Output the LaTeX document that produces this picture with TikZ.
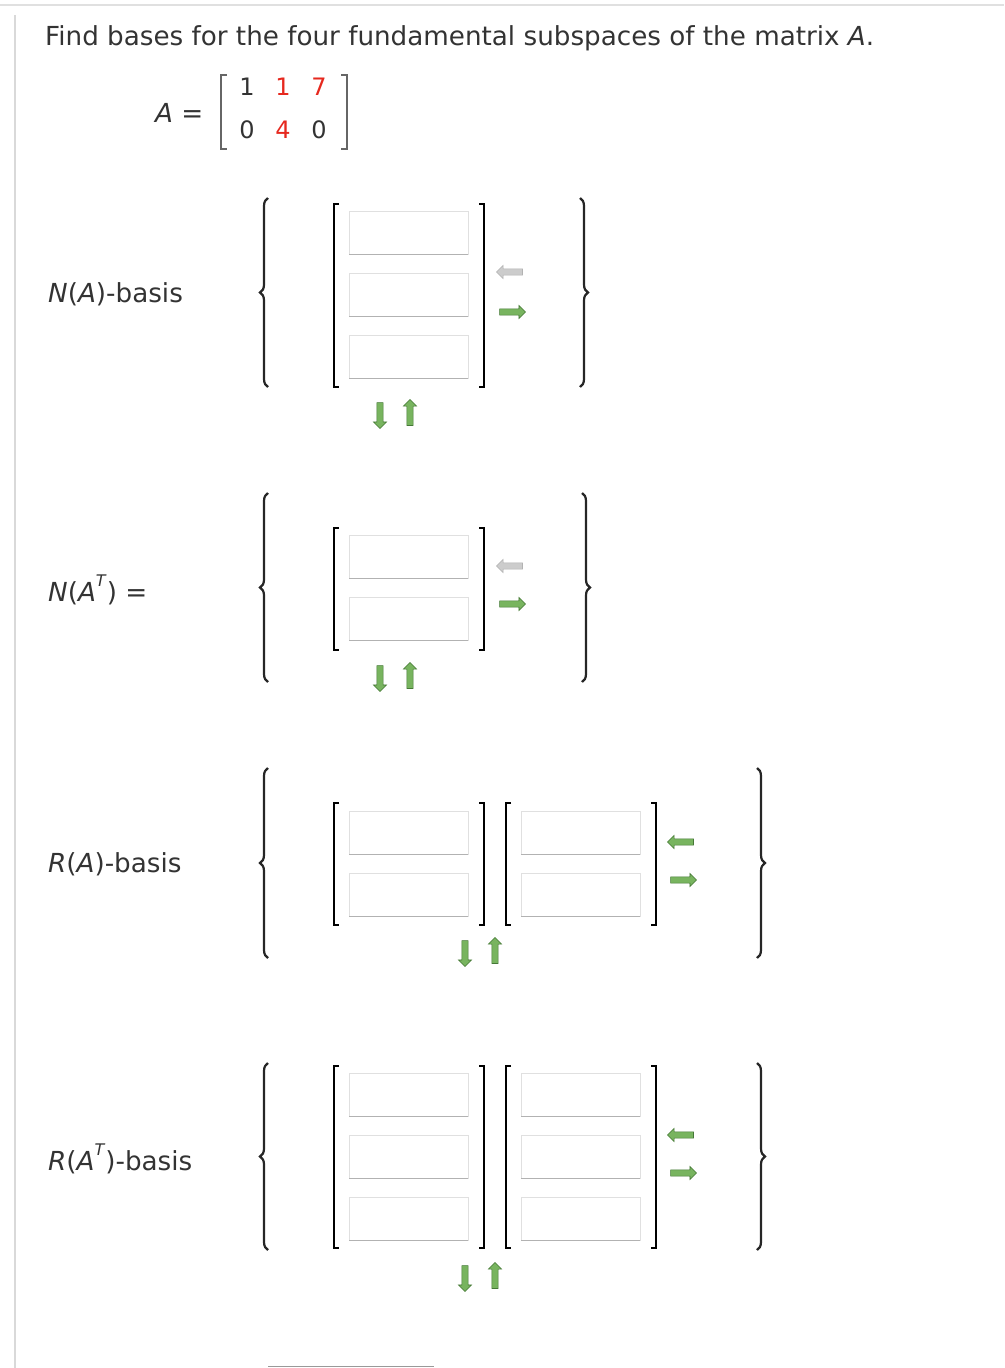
\documentclass[tikz,border=0pt]{standalone}
\usepackage{fontspec}
\setmainfont{DejaVu Sans}
\usetikzlibrary{decorations.pathreplacing,shapes.arrows}
\definecolor{txt}{RGB}{51,51,51}
\definecolor{gfill}{RGB}{120,180,95}
\definecolor{gdraw}{RGB}{70,120,55}
\definecolor{redn}{RGB}{230,40,30}
\tikzset{
  lbl/.style={anchor=west,text=txt,font=\fontsize{26.2}{30}\selectfont,inner sep=0},
  inbox/.style={draw=black!12,fill=white,minimum width=119pt,minimum height=43pt,inner sep=0},
  brc/.style={decorate,decoration={brace,amplitude=8pt},line width=2.2pt,black!85},
  garr/.style={single arrow,fill=gfill,draw=gdraw,line width=0.6pt,minimum height=26pt,minimum width=13pt,single arrow head extend=3.5pt,inner sep=2.8pt,single arrow tip angle=90},
  grarr/.style={garr,fill=black!20,draw=black!30},
  ent/.style={font=\fontsize{24}{28}\selectfont,inner sep=0}
}
\newcommand\sT{\raisebox{0.55em}{\fontsize{16}{18}\selectfont\textit{T}}}
\newcommand\inp[3]{\node[inbox,anchor=north west] (#1) at (#2,#3) {};
  \draw[black!30,line width=0.8pt] (#1.south west) -- (#1.south east);}
\newcommand\brk[4]{% x1 x2 ytop ybot
  \draw[line width=1.3pt] (#1+5,#3) -- (#1,#3) -- (#1,#4) -- (#1+5,#4);
  \draw[line width=1.3pt] (#2-5,#3) -- (#2,#3) -- (#2,#4) -- (#2-5,#4);}
\newcommand\brcs[4]{% xl xr ytop ybot
  \coordinate (bl1) at (#1,#4); \coordinate (bl2) at (#1,#3);
  \coordinate (br1) at (#2,#3); \coordinate (br2) at (#2,#4);
  \draw[brc] (bl1) -- (bl2); \draw[brc] (br1) -- (br2);}
\newcommand\ud[3]{\node[garr,rotate=-90] (d#3) at (#1,#2) {};\node[garr,rotate=90] (u#3) at (#1+30,#2) {};}
\begin{document}
\begin{tikzpicture}[x=1pt,y=-1pt]
\useasboundingbox (0,0) rectangle (1004,1368);
\draw[black!12,line width=2pt] (0,5) -- (1004,5);
\draw[black!15,line width=2pt] (15,15) -- (15,1368);
\node[lbl] (title) at (45,38) {Find bases for the four fundamental subspaces of the matrix \textit{A}.};
% matrix
\node[lbl] (aeq) at (155,113) {\textit{A} =};
\draw[black!60,line width=1.4pt] (227,75) -- (221,75) -- (221,149) -- (227,149);
\draw[black!60,line width=1.4pt] (341,75) -- (347,75) -- (347,149) -- (341,149);
\node[ent,text=txt] (a11) at (247,87) {1};
\node[ent,text=redn] (a12) at (283,87) {1};
\node[ent,text=redn] (a13) at (319,87) {7};
\node[ent,text=txt] (a21) at (247,130) {0};
\node[ent,text=redn] (a22) at (283,130) {4};
\node[ent,text=txt] (a23) at (319,130) {0};
% section 1
\node[lbl] (l1) at (48,294) {\textit{N}(\textit{A})-basis};
\brcs{268}{580}{198}{387}
\brk{334}{484}{204}{387}
\inp{i11}{349}{211}\inp{i12}{349}{273}\inp{i13}{349}{335}
\node[grarr,shape border rotate=180] (al1) at (511,272) {};
\node[garr] (ar1) at (511,312) {};
\ud{380}{414}{1}
% section 2
\node[lbl] (l2) at (48,590) {\textit{N}(\textit{A}\sT) =};
\brcs{268}{582}{493}{682}
\brk{334}{484}{528}{650}
\inp{i21}{349}{535}\inp{i22}{349}{597}
\node[grarr,shape border rotate=180] (al2) at (511,566) {};
\node[garr] (ar2) at (511,604) {};
\ud{380}{677}{2}
% section 3
\node[lbl] (l3) at (48,864) {\textit{R}(\textit{A})-basis};
\brcs{268}{757}{768}{958}
\brk{334}{484}{803}{925}
\brk{506}{656}{803}{925}
\inp{i31}{349}{811}\inp{i32}{349}{873}\inp{i33}{521}{811}\inp{i34}{521}{873}
\node[garr,shape border rotate=180] (al3) at (682,842) {};
\node[garr] (ar3) at (682,880) {};
\ud{465}{952}{3}
% section 4
\node[lbl] (l4) at (48,1159) {\textit{R}(\textit{A}\sT)-basis};
\brcs{268}{757}{1063}{1250}
\brk{334}{484}{1066}{1248}
\brk{506}{656}{1066}{1248}
\inp{i41}{349}{1073}\inp{i42}{349}{1135}\inp{i43}{349}{1197}
\inp{i44}{521}{1073}\inp{i45}{521}{1135}\inp{i46}{521}{1197}
\node[garr,shape border rotate=180] (al4) at (682,1135) {};
\node[garr] (ar4) at (682,1173) {};
\ud{465}{1277}{4}
\draw[black!40,line width=1pt] (268,1366) -- (434,1366);
\end{tikzpicture}
\end{document}
